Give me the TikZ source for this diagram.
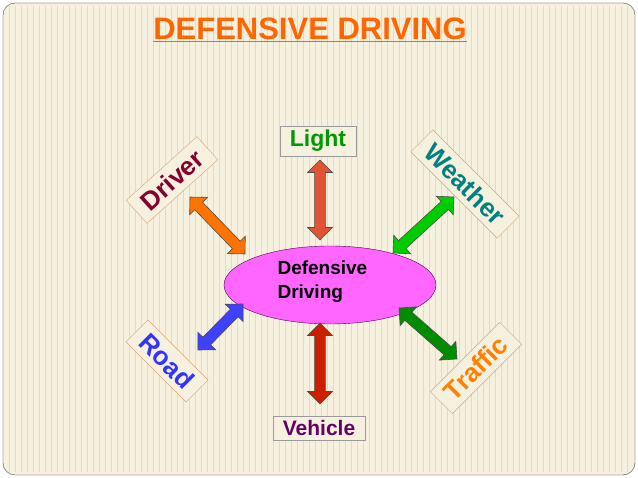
\documentclass[tikz,border=0pt]{standalone}
\usepackage{fontspec}
\setmainfont{Liberation Sans}
\usetikzlibrary{shapes.geometric,shapes.arrows,calc}
\definecolor{paper}{HTML}{F6F1DE}
\definecolor{stripe}{HTML}{E2DCC6}
\definecolor{pinkfill}{HTML}{FF66FF}
\tikzset{
  label box/.style={draw=#1, fill=paper, inner xsep=10pt, inner ysep=6pt, font=\bfseries\fontsize{26}{28}\selectfont},
  link/.style={double arrow, draw=black!70, fill=#1, minimum width=25pt, inner sep=3.5pt,
    double arrow head extend=5pt, double arrow head indent=0pt, line width=0.6pt}
}
\newcommand\linkarrow[3]{%
  \path let \p1=(#1), \p2=(#2), \n1={atan2(\y2-\y1,\x2-\x1)}, \n2={veclen(\x2-\x1,\y2-\y1)} in
    node[link=#3, rotate=\n1, minimum height=\n2] at ($(#1)!0.5!(#2)$) {};}
\begin{document}
\begin{tikzpicture}[x=1pt,y=-1pt]
  \useasboundingbox (0,0) rectangle (638,478);
  % page
  \draw[black!50, fill=paper, rounded corners=12pt] (3,3) rectangle (635,475);
  \foreach \x in {9,15,...,630} \draw[stripe, line width=0.4pt] (\x,6) -- (\x,472);
  \draw[black!50, rounded corners=12pt] (3,3) rectangle (635,475);
  % title
  \node[font=\bfseries\fontsize{31}{34}\selectfont, text=orange!80!red] (title) at (310,30) {\underline{DEFENSIVE DRIVING}};
  % centre
  \node[ellipse, draw=violet!60!black, fill=pinkfill, minimum width=212pt, minimum height=78pt] (core) at (330,285) {};
  \node[align=left, font=\bfseries\fontsize{19}{24}\selectfont, anchor=west] (coretext) at (274,282) {Defensive\\Driving};
  % factors
  \node[label box=black!40, text=green!60!black, inner ysep=4pt, font=\bfseries\fontsize{23}{25}\selectfont] (light) at (318,141) {Light};
  \node[label box=black!40, text=violet!80!black, inner ysep=4pt, font=\bfseries\fontsize{21}{23}\selectfont] (vehicle) at (319,428) {Vehicle};
  \node[label box=brown!70, text=purple!70!black, rotate=42] (driver) at (172,180) {Driver};
  \node[label box=brown!70, text=teal, rotate=-45] (weather) at (465,184) {Weather};
  \node[label box=brown!70, text=blue!80, rotate=-45] (road) at (167,361) {Road};
  \node[label box=brown!70, text=orange, rotate=45] (traffic) at (476,368) {Traffic};
  % arrow ends
  \coordinate (l1) at (320,160); \coordinate (l2) at (320,240);
  \coordinate (d1) at (190,197); \coordinate (d2) at (245,254);
  \coordinate (w1) at (454,197); \coordinate (w2) at (393,253);
  \coordinate (r1) at (198,350); \coordinate (r2) at (243,304);
  \coordinate (v1) at (320,323); \coordinate (v2) at (320,404);
  \coordinate (t1) at (399,308); \coordinate (t2) at (457,359);
  \linkarrow{l1}{l2}{red!50!brown!90!white}
  \linkarrow{d1}{d2}{orange!90!red}
  \linkarrow{w1}{w2}{green!80!black}
  \linkarrow{r1}{r2}{blue!75!white}
  \linkarrow{v1}{v2}{red!70!orange!80!black}
  \linkarrow{t1}{t2}{green!55!black}
\end{tikzpicture}
\end{document}
